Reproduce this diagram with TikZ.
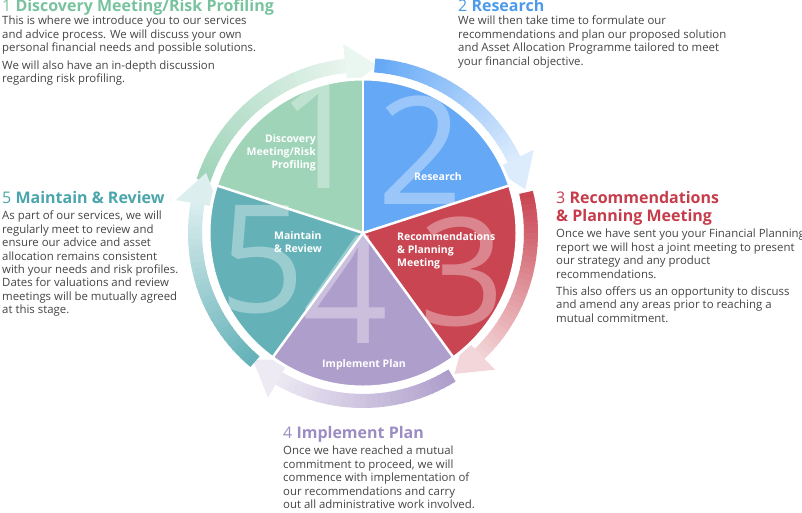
\documentclass[tikz,border=0pt]{standalone}
\usepackage{fontspec}
\setmainfont{Open Sans}
\usetikzlibrary{calc}
\definecolor{cGreen}{HTML}{9FD4B9}
\definecolor{cBlue}{HTML}{64A8F6}
\definecolor{cRed}{HTML}{C94552}
\definecolor{cPurple}{HTML}{AE9ECB}
\definecolor{cTeal}{HTML}{64B2B8}
\definecolor{tGreen}{HTML}{78C39E}
\definecolor{tBlue}{HTML}{4D9BE8}
\definecolor{tRed}{HTML}{C63C4B}
\definecolor{tPurple}{HTML}{9C8CC4}
\definecolor{tTeal}{HTML}{4AA6AC}
\definecolor{body}{HTML}{444444}
\tikzset{
  title/.style={anchor=north west, inner sep=0pt, font=\fontsize{16}{18.5}\selectfont\bfseries, align=left},
  para/.style={anchor=north west, inner sep=0pt, text=body, font=\fontsize{11.4}{13.4}\selectfont, align=left},
  wlabel/.style={inner sep=0pt, text=white, font=\fontsize{10.5}{13}\selectfont\bfseries},
  digit/.style={inner sep=0pt, text=white, opacity=0.35, font=\fontsize{150}{150}\selectfont},
}
% ring arrow: start angle, end angle, colour
\newcommand{\ringarrow}[3]{%
  \foreach \k in {0,...,29}{%
    \pgfmathsetmacro{\ang}{#1+(#2-#1)*\k/30}
    \pgfmathsetmacro{\angb}{#1+(#2-#1)*(\k+1.3)/30}
    \pgfmathsetmacro{\mix}{100-2.6*\k}
    \draw[line width=14pt, #3!\mix!white] ($(C)+(\ang:168)$) -- ($(C)+(\angb:168)$);
  }
  \fill[#3!22!white] ($(C)+(#2:146)$) -- ($(C)+(#2+11:168)$) -- ($(C)+(#2:190)$) -- cycle;
}
\begin{document}
\begin{tikzpicture}[x=1pt, y=-1pt]
\useasboundingbox (0,0) rectangle (802,512);
\coordinate (C) at (363,233);
% ring
\ringarrow{198}{264}{cGreen}
\ringarrow{-86}{-26}{cBlue}
\ringarrow{-14}{46}{cRed}
\ringarrow{58}{120}{cPurple}
\ringarrow{130}{190}{cTeal}
% sectors
\foreach \a/\c in {-90/cBlue, -18/cRed, 54/cPurple, 126/cTeal, 198/cGreen}{
  \fill[\c] (C) \foreach \t in {0,2,...,72}{ -- ($(C)+(\a+\t:154)$) } -- cycle;
}
\foreach \a in {-90,-18,54,126,198}{
  \draw[white, line width=2.5pt] (C) -- ($(C)+(\a:154)$);
}
\draw[white, line width=3pt] (C) circle[radius=154];
% big digits
\node[digit] (n1) at (320,135) {1};
\node[digit] (n2) at (420,150) {2};
\node[digit] (n3) at (462,272) {3};
\node[digit] (n4) at (345,290) {4};
\node[digit] (n5) at (262,260) {5};
% sector labels
\node[wlabel, align=right, anchor=east] (w1) at (316,153) {Discovery\\Meeting/Risk\\Profiling};
\node[wlabel] (w2) at (438,177) {Research};
\node[wlabel, align=left, anchor=west] (w3) at (397,251) {Recommendations\\\& Planning\\Meeting};
\node[wlabel, align=left] (w5) at (298,242) {Maintain\\\& Review};
\node[wlabel] (w4) at (364,365) {Implement Plan};
% text blocks
\node[title, text=tGreen] (t1) at (2,-1) {{\mdseries 1} Discovery Meeting/Risk Profiling};
\node[para] (p1) at (2,16) {This is where we introduce you to our services\\and advice process. We will discuss your own\\personal financial needs and possible solutions.\\[4pt]We will also have an in-depth discussion\\regarding risk profiling.};
\node[title, text=tBlue] (t2) at (458,-1) {{\mdseries 2} Research};
\node[para] (p2) at (458,16) {We will then take time to formulate our\\recommendations and plan our proposed solution\\and Asset Allocation Programme tailored to meet\\your financial objective.};
\node[title, text=tRed] (t3) at (556,191) {{\mdseries 3} Recommendations\\\& Planning Meeting};
\node[para] (p3) at (556,229) {Once we have sent you your Financial Planning\\report we will host a joint meeting to present\\our strategy and any product\\recommendations.\\[4pt]This also offers us an opportunity to discuss\\and amend any areas prior to reaching a\\mutual commitment.};
\node[title, text=tTeal] (t5) at (2,191) {{\mdseries 5} Maintain \& Review};
\node[para] (p5) at (2,211) {As part of our services, we will\\regularly meet to review and\\ensure our advice and asset\\allocation remains consistent\\with your needs and risk profiles.\\Dates for valuations and review\\meetings will be mutually agreed\\at this stage.};
\node[title, text=tPurple] (t4) at (283,426) {{\mdseries 4} Implement Plan};
\node[para] (p4) at (283,446) {Once we have reached a mutual\\commitment to proceed, we will\\commence with implementation of\\our recommendations and carry\\out all administrative work involved.};
\end{tikzpicture}
\end{document}
